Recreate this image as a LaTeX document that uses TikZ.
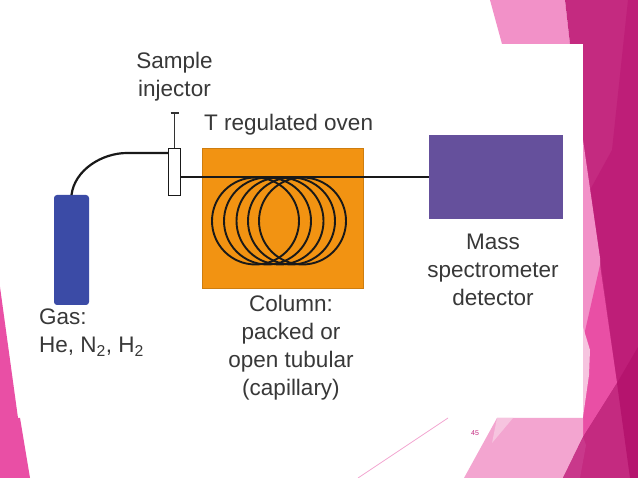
\documentclass[tikz,border=0pt]{standalone}
\usepackage{fontspec}
\setmainfont{Liberation Sans}
\usetikzlibrary{calc}

\definecolor{ovenorange}{HTML}{F29312}
\definecolor{gasblue}{HTML}{3B4BA6}
\definecolor{mspurple}{HTML}{65509C}
\definecolor{labelgrey}{HTML}{383838}
\definecolor{rosepale}{HTML}{F6C4DF}
\definecolor{roselight}{HTML}{F3A5D0}
\definecolor{rosetop}{HTML}{F291C8}
\definecolor{rosemid}{HTML}{E94FA5}
\definecolor{magentaA}{HTML}{C42A80}
\definecolor{magentaB}{HTML}{BE1E78}
\definecolor{magentaC}{HTML}{B5146E}
\definecolor{magentaD}{HTML}{C9388B}

\tikzset{
    blockbox/.style={rectangle,inner sep=0pt,outer sep=0pt},
    coilloop/.style={circle,draw=black!90,line width=1.9pt,inner sep=0pt,minimum size=87pt},
    pipe/.style={draw=black!90,line width=2.2pt},
    caption/.style={text=labelgrey,font=\fontsize{22.5}{28}\selectfont,inner sep=0pt}
}

\begin{document}
\begin{tikzpicture}[x=1pt,y=-1pt]
    \useasboundingbox (0,0) rectangle (638,478);
    % slide background
    \fill[white] (0,0) rectangle (638,478);
    \fill[rosemid] (0,287) -- (18,418) -- (20,418) -- (30,478) -- (0,478) -- cycle;
    \fill[rosetop] (490,0) -- (565,0) -- (570,44) -- (502,44) -- cycle;
    \fill[magentaA] (565,0) -- (638,0) -- (638,478) -- (583,478) -- (583,44) -- (570,44) -- cycle;
    \fill[magentaB] (628,0) -- (638,0) -- (638,350) -- (617,383) -- (600,258) -- (590,190) -- (612,150) -- cycle;
    \fill[rosetop] (583,140) -- (600,258) -- (600,270) -- (590,320) -- (583,340) -- cycle;
    \fill[rosemid] (583,340) -- (600,265) -- (617,383) -- (583,437) -- cycle;
    \fill[rosepale] (583,327) -- (590,350) -- (589,375) -- (583,417) -- cycle;
    \fill[roselight] (497,418) -- (583,418) -- (583,437) -- (563,478) -- (464,478) -- cycle;
    \fill[rosepale] (497,418) -- (513,418) -- (492,443) -- cycle;
    \fill[magentaA] (617,383) -- (630,478) -- (563,478) -- (583,437) -- cycle;
    \fill[magentaD] (583,437) -- (563,478) -- (580,478) -- (586,445) -- cycle;
    \fill[magentaC] (617,383) -- (638,347) -- (638,478) -- (630,478) -- cycle;
    \coordinate (foldtop) at (448,418);
    \coordinate (foldend) at (358,478);
    \draw[roselight,line width=.7pt] (foldtop) -- (foldend);
    \node[inner sep=0pt,text=magentaA,font=\fontsize{7}{8}\selectfont] (pageno) at (475,433) {45};

    % instrument
    \node[blockbox,fill=ovenorange,draw=ovenorange!85!black,line width=.5pt,minimum width=161pt,minimum height=140pt] (oven) at (282.5,218) {};
    \node[blockbox,fill=mspurple,minimum width=134pt,minimum height=84pt] (ms) at (496,177) {};
    \node[blockbox,fill=gasblue,rounded corners=3pt,minimum width=35pt,minimum height=110pt] (gas) at (71.5,250) {};
    \foreach \i/\cx in {1/255.5,2/267.5,3/280,4/291.5,5/302.5}
        \node[coilloop] (coil\i) at (\cx,221) {};
    \node[blockbox,fill=white,draw=black!90,line width=1.6pt,minimum width=12pt,minimum height=47pt] (injector) at (174.5,172) {};

    \coordinate (gasbend) at (127,153);
    \coordinate (gasin) at (168,153);
    \coordinate (stemtop) at (174.5,113);
    \draw[pipe] (gas.north) .. controls +(3,-25) and +(-25,0) .. (gasbend) -- (gasin);
    \draw[pipe] (injector.east |- ms.west) -- (ms.west);
    \draw[draw=black!80,line width=1.3pt] (injector.north) -- (stemtop);
    \draw[draw=black!80,line width=1.3pt] ([xshift=-4pt]stemtop) -- ([xshift=4pt]stemtop);

    % labels
    \node[caption,align=center] (injectorlabel) at (174.5,77) {Sample\\injector};
    \node[caption,anchor=west] (ovenlabel) at (204,125) {T regulated oven};
    \node[caption,align=left,anchor=west] (gaslabel) at (39,333) {Gas:\\He, N\textsubscript{2}, H\textsubscript{2}};
    \node[caption,align=center] (columnlabel) at (291,348) {Column:\\packed or\\open tubular\\(capillary)};
    \node[caption,align=center] (mslabel) at (493,270) {Mass\\spectrometer\\detector};
\end{tikzpicture}
\end{document}
